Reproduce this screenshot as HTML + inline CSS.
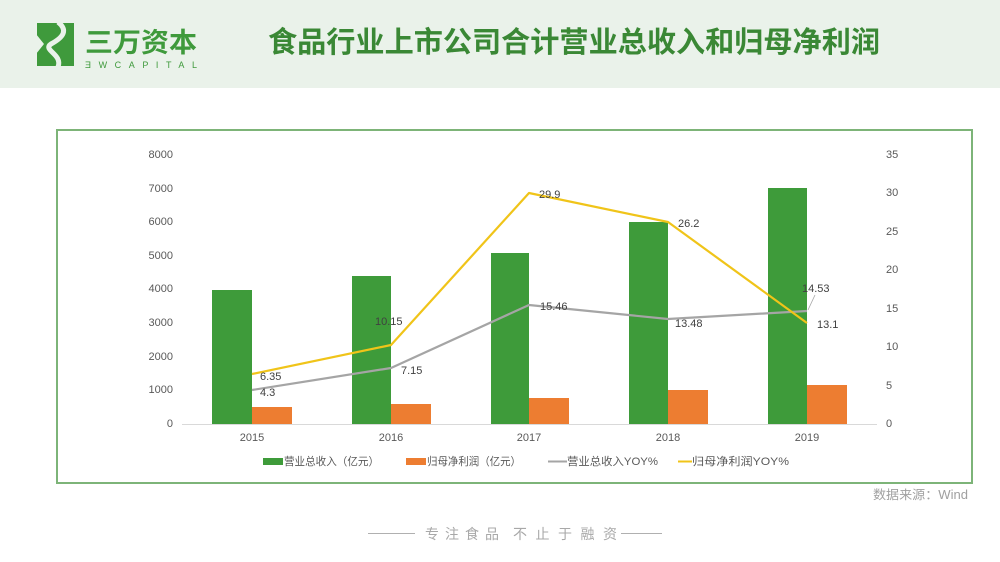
<!DOCTYPE html>
<html><head><meta charset="utf-8">
<style>
html,body{margin:0;padding:0;background:#fff;}
body{width:1000px;height:562px;overflow:hidden;position:relative;}
svg{position:absolute;left:0;top:0;}
text{font-family:"Liberation Sans","Noto Sans CJK SC",sans-serif;}
</style></head>
<body>
<svg width="1000" height="562" viewBox="0 0 1000 562" xmlns="http://www.w3.org/2000/svg">
  <!-- header band -->
  <rect x="0" y="0" width="1000" height="88" fill="#eaf2ea"/>
  <!-- logo icon -->
  <g>
    <rect x="37" y="23" width="37" height="43" fill="#3f9a3c"/>
    <path d="M58 22 C68 30, 64 37, 51 44 C42 50, 63 54, 58 67" stroke="#eaf2ea" stroke-width="5" fill="none"/>
    <path d="M36 34 L44 44 L36 54 Z" fill="#eaf2ea"/>
  </g>
  <text x="85" y="52" font-size="27" font-weight="bold" fill="#3f9a3c" textLength="112" lengthAdjust="spacingAndGlyphs">三万资本</text>
  <text x="85" y="68" font-size="9" fill="#3f9a3c" textLength="112" lengthAdjust="spacing">ƎWCAPITAL</text>
  <!-- title -->
  <text x="268" y="52" font-size="29" font-weight="bold" fill="#3a8835" textLength="612" lengthAdjust="spacingAndGlyphs">食品行业上市公司合计营业总收入和归母净利润</text>

  <!-- frame -->
  <rect x="57" y="130" width="915" height="353" fill="#fff" stroke="#7db478" stroke-width="2"/>

  <!-- left axis labels -->
  <g font-size="11" fill="#595959" text-anchor="end">
    <text x="173" y="158">8000</text>
    <text x="173" y="192">7000</text>
    <text x="173" y="225">6000</text>
    <text x="173" y="259">5000</text>
    <text x="173" y="292">4000</text>
    <text x="173" y="326">3000</text>
    <text x="173" y="360">2000</text>
    <text x="173" y="393">1000</text>
    <text x="173" y="427">0</text>
  </g>
  <!-- right axis labels -->
  <g font-size="11" fill="#595959" text-anchor="start">
    <text x="886" y="158">35</text>
    <text x="886" y="196">30</text>
    <text x="886" y="235">25</text>
    <text x="886" y="273">20</text>
    <text x="886" y="312">15</text>
    <text x="886" y="350">10</text>
    <text x="886" y="389">5</text>
    <text x="886" y="427">0</text>
  </g>

  <!-- bars -->
  <g fill="#3e9b3a">
    <rect x="212" y="290" width="40" height="134"/>
    <rect x="352" y="276" width="39" height="148"/>
    <rect x="491" y="253" width="38" height="171"/>
    <rect x="629" y="222" width="39" height="202"/>
    <rect x="768" y="188" width="39" height="236"/>
  </g>
  <g fill="#ed7d31">
    <rect x="252" y="407" width="40" height="17"/>
    <rect x="391" y="404" width="40" height="20"/>
    <rect x="529" y="398" width="40" height="26"/>
    <rect x="668" y="390" width="40" height="34"/>
    <rect x="807" y="385" width="40" height="39"/>
  </g>
  <!-- axis line -->
  <line x1="182" y1="424.5" x2="877" y2="424.5" stroke="#d9d9d9" stroke-width="1"/>

  <!-- year labels -->
  <g font-size="11" fill="#595959" text-anchor="middle">
    <text x="252" y="441">2015</text>
    <text x="391" y="441">2016</text>
    <text x="529" y="441">2017</text>
    <text x="668" y="441">2018</text>
    <text x="807" y="441">2019</text>
  </g>

  <!-- lines -->
  <polyline points="252,390 391,368 529,305 668,319 807,311" fill="none" stroke="#a5a5a5" stroke-width="2.2" stroke-linejoin="round"/>
  <polyline points="252,374 391,345 529,193 668,222 807,323" fill="none" stroke="#f0c419" stroke-width="2.2" stroke-linejoin="round"/>

  <!-- data labels -->
  <g font-size="11" fill="#404040">
    <text x="260" y="380">6.35</text>
    <text x="260" y="396">4.3</text>
    <text x="375" y="325">10.15</text>
    <text x="401" y="374">7.15</text>
    <text x="539" y="198">29.9</text>
    <text x="540" y="310">15.46</text>
    <text x="678" y="227">26.2</text>
    <text x="675" y="327">13.48</text>
    <text x="802" y="292">14.53</text>
    <text x="817" y="328">13.1</text>
  </g>
  <line x1="815" y1="295" x2="808" y2="310" stroke="#a5a5a5" stroke-width="0.8"/>

  <!-- legend -->
  <rect x="263" y="458" width="20" height="7" fill="#3e9b3a"/>
  <text x="284" y="465" font-size="11" fill="#595959" textLength="95" lengthAdjust="spacingAndGlyphs">营业总收入（亿元）</text>
  <rect x="406" y="458" width="20" height="7" fill="#ed7d31"/>
  <text x="427" y="465" font-size="11" fill="#595959" textLength="94" lengthAdjust="spacingAndGlyphs">归母净利润（亿元）</text>
  <line x1="548" y1="461.5" x2="567" y2="461.5" stroke="#a5a5a5" stroke-width="2"/>
  <text x="567" y="465" font-size="11" fill="#595959" textLength="91" lengthAdjust="spacingAndGlyphs">营业总收入YOY%</text>
  <line x1="678" y1="461.5" x2="692" y2="461.5" stroke="#f0c419" stroke-width="2"/>
  <text x="692" y="465" font-size="11" fill="#595959" textLength="97" lengthAdjust="spacingAndGlyphs">归母净利润YOY%</text>

  <!-- source -->
  <text x="873" y="499" font-size="12.5" fill="#a0a0a0" textLength="95" lengthAdjust="spacingAndGlyphs">数据来源：Wind</text>

  <!-- slogan -->
  <line x1="368" y1="533.5" x2="415" y2="533.5" stroke="#b0b0b0" stroke-width="1"/>
  <line x1="621" y1="533.5" x2="662" y2="533.5" stroke="#b0b0b0" stroke-width="1"/>
  <text x="425" y="539" font-size="14" fill="#a8a8a8" textLength="74" lengthAdjust="spacing">专注食品</text>
  <text x="513" y="539" font-size="14" fill="#a8a8a8" textLength="104" lengthAdjust="spacing">不止于融资</text>
</svg>
</body></html>
